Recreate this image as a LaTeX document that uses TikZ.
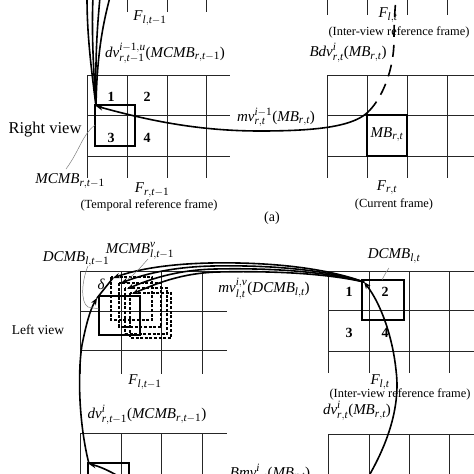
\documentclass[tikz,border=0pt]{standalone}
\usepackage{fontspec}
\setmainfont{Liberation Serif}
\DeclareMathAlphabet{\mathti}{TU}{\rmdefault}{m}{it}
\DeclareMathAlphabet{\mathtr}{TU}{\rmdefault}{m}{n}
\DeclareMathSizes{15}{15}{11.2}{9}
\newcommand\I[1]{\mathti{#1}}
\newcommand\R[1]{\mathtr{#1}}
\newcommand\lp{\mbox{(}}
\newcommand\rp{\mbox{)}}
\usetikzlibrary{arrows.meta}
\begin{document}
\begin{tikzpicture}[x=1pt,y=-1pt,
 gridl/.style={line width=1pt,black!85},
 blk/.style={line width=1.3pt},
 con/.style={line width=1.6pt},
 arr/.style={con,-{Stealth[length=7pt,width=5.5pt]}},
 dsh/.style={line width=1.1pt,dash pattern=on 3pt off 1.6pt},
 lead/.style={gray,line width=0.5pt},
 tx/.style={font=\fontsize{12.4}{14}\selectfont,inner sep=0pt},
 mx/.style={font=\fontsize{15}{17}\selectfont,inner sep=0pt},
 num/.style={font=\fontsize{14}{16}\selectfont\bfseries,inner sep=0pt}]
\clip (0,0) rectangle (474,474);
\fill[white] (0,0) rectangle (474,474);
% ================= (a) =================
\foreach \x in {87,127,167,206} \draw[gridl] (\x,-2) -- (\x,12);
\foreach \y in {75,115,156} \draw[gridl] (87,\y) -- (230,\y);
\foreach \x in {87,127,167,206} \draw[gridl] (\x,75) -- (\x,178);
\foreach \x in {327,367,407,447} \draw[gridl] (\x,-2) -- (\x,15);
\foreach \y in {75,115,156} \draw[gridl] (327,\y) -- (476,\y);
\foreach \x in {327,367,407,447} \draw[gridl] (\x,75) -- (\x,178);
\draw[blk] (367,115) rectangle (407,156);
\draw[blk] (95,105) rectangle (135,146);
\node[tx] (lr) at (45,130) {\fontsize{16.5}{18}\selectfont Right view};
\node[num] (a1) at (111,97) {1};
\node[num] (a2) at (147,97) {2};
\node[num] (a3) at (111,138) {3};
\node[num] (a4) at (147,138) {4};
\node[mx] (fl1) at (150,18) {$\I{F}_{\I{l},\I{t}-\R1}$};
\node[mx] (dvu) at (165,53) {$\I{dv}^{\I{i}-\R1,\I{u}}_{\I{r},\I{t}-\R1}\lp\I{MCMB}_{\I{r},\I{t}-\R1}\rp$};
\node[mx] (flt) at (388,15) {$\I{F}_{\I{l},\I{t}}$};
\node[tx] (ivr) at (399,32) {(Inter-view reference frame)};
\node[mx] (bdv) at (348,53) {$\I{Bdv}^{\I{i}}_{\I{r},\I{t}}\lp\I{MB}_{\I{r},\I{t}}\rp$};
\node[mx] (mva) at (276,117) {$\I{mv}^{\I{i}-\R1}_{\I{r},\I{t}}\lp\I{MB}_{\I{r},\I{t}}\rp$};
\node[mx] (mcmbl) at (70,181) {$\I{MCMB}_{\I{r},\I{t}-\R1}$};
\node[mx] (fr1) at (152,190) {$\I{F}_{\I{r},\I{t}-\R1}$};
\node[tx] (trf) at (149,205) {(Temporal reference frame)};
\node[mx] (mbl) at (387,135) {$\I{MB}_{\I{r},\I{t}}$};
\node[mx] (frt) at (387,188) {$\I{F}_{\I{r},\I{t}}$};
\node[tx] (cf) at (394,204) {(Current frame)};
\node[tx] (capa) at (272,218) {\fontsize{14}{16}\selectfont (a)};
\coordinate (mbA) at (369,111);
\coordinate (mcA) at (96,106);
\draw[arr] (mbA) .. controls (355,126) and (320,131) .. (260,131)
  .. controls (200,131) and (150,121) .. (mcA);
\draw[con,dash pattern=on 12pt off 8pt] (mbA) .. controls (382,98) and (394,70) .. (394,40)
  .. controls (394,20) and (395,10) .. (396,-3);
\draw[con] (mcA) .. controls (90,60) and (87,30) .. (87,-3);
\draw[con] (mcA) .. controls (92,50) and (92,20) .. (93,-3);
\draw[con] (mcA) .. controls (95,50) and (98,20) .. (100,-3);
\draw[con] (mcA) .. controls (97,50) and (104,20) .. (110,-3);
\draw[lead] (66,169) .. controls (80,150) and (82,135) .. (95,125);
% ================= (b) =================
\foreach \y in {271,311,350} \draw[gridl] (80,\y) -- (227,\y);
\foreach \x in {80,121,161,202} \draw[gridl] (\x,271) -- (\x,374);
\foreach \y in {271,310,351} \draw[gridl] (328,\y) -- (476,\y);
\foreach \x in {328,369,409,449} \draw[gridl] (\x,271) -- (\x,373);
\draw[gridl] (80,433) -- (227,433);
\foreach \x in {80,121,161,202} \draw[gridl] (\x,433) -- (\x,480);
\draw[gridl] (328,434) -- (476,434);
\foreach \x in {328,369,409,449} \draw[gridl] (\x,434) -- (\x,480);
\draw[blk] (99,296) rectangle (140,335);
\draw[dsh] (111,277) rectangle (152,320);
\draw[dsh] (119,283) rectangle (161,327);
\draw[dsh] (125,288) rectangle (167,334);
\draw[dsh] (130,293) rectangle (171,338);
\draw[blk] (362,280) rectangle (404,320);
\draw[blk] (88,463) rectangle (129,482);
\node[num] (b1) at (349,292) {1};
\node[num] (b2) at (385,292) {2};
\node[num] (b3) at (349,333) {3};
\node[num] (b4) at (385,333) {4};
\node[tx] (lv) at (38,330) {\fontsize{13.5}{16}\selectfont Left view};
\node[mx] (dcl1) at (76,259) {$\I{DCMB}_{\I{l},\I{t}-\R1}$};
\node[mx] (mcv) at (140,251) {$\I{MCMB}^{\I{v}}_{\I{l},\I{t}-\R1}$};
\node[mx] (del) at (101,284) {\itshape δ};
\node[mx] (dclt) at (394,256) {$\I{DCMB}_{\I{l},\I{t}}$};
\node[mx] (mvb) at (264,289) {$\I{mv}^{\I{i},\I{v}}_{\I{l},\I{t}}\lp\I{DCMB}_{\I{l},\I{t}}\rp$};
\node[mx] (fl1b) at (145,382) {$\I{F}_{\I{l},\I{t}-\R1}$};
\node[mx] (dvb) at (147,415) {$\I{dv}^{\I{i}}_{\I{r},\I{t}-\R1}\lp\I{MCMB}_{\I{r},\I{t}-\R1}\rp$};
\node[mx] (fltb) at (380,382) {$\I{F}_{\I{l},\I{t}}$};
\node[tx] (ivrb) at (400,394) {(Inter-view reference frame)};
\node[mx] (dvrt) at (357,411) {$\I{dv}^{\I{i}}_{\I{r},\I{t}}\lp\I{MB}_{\I{r},\I{t}}\rp$};
\node[mx,anchor=base] (bmv) at (270,477) {$\I{Bmv}^{\I{i}}_{\I{r},\I{t}}\lp\I{MB}_{\I{r},\I{t}}\rp$};
\coordinate (dA) at (364,282);
\coordinate (t1) at (113,278);
\coordinate (t2) at (121,283);
\coordinate (t3) at (127,289);
\coordinate (t4) at (132,294);
\coordinate (dc) at (97,298);
\coordinate (mcb) at (89,464);
\coordinate (mbb) at (370,474);
\coordinate (bin) at (118,476);
\draw[arr] (dA) .. controls (320,266) and (260,262) .. (210,263) .. controls (165,264) and (135,270) .. (t1);
\draw[arr] (dA) .. controls (320,268) and (260,265) .. (212,266) .. controls (170,267) and (142,275) .. (t2);
\draw[arr] (dA) .. controls (320,270) and (260,268) .. (215,269) .. controls (175,270) and (148,280) .. (t3);
\draw[arr] (dA) .. controls (320,272) and (260,271) .. (218,272) .. controls (180,273) and (153,285) .. (t4);
\draw[arr] (mcb) .. controls (78,420) and (78,370) .. (82,345) .. controls (86,325) and (90,310) .. (dc);
\draw[con] (dc) -- (t1);
\draw[arr] (mbb) .. controls (392,435) and (400,400) .. (396,370) .. controls (393,340) and (382,305) .. (dA);
\draw[arr] (bin) .. controls (108,470) and (98,466) .. (mcb);
\draw[lead] (88,266) .. controls (82,280) and (80,302) .. (88,307) -- (99,309);
\draw[lead] (148,259) .. controls (140,268) and (135,274) .. (128,279);
\draw[lead] (389,268) .. controls (386,272) and (384,276) .. (382,280);
\end{tikzpicture}
\end{document}
